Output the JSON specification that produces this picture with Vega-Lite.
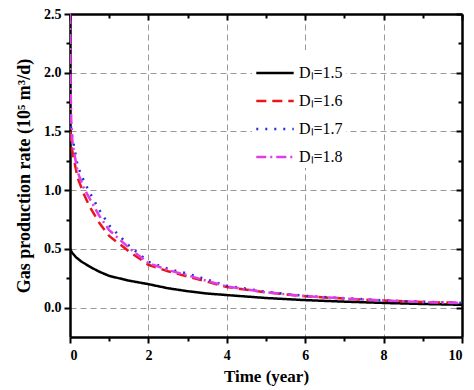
{
  "$schema": "https://vega.github.io/schema/vega-lite/v6.json",
  "width": 392,
  "height": 323,
  "autosize": "none",
  "padding": {"left": 70, "top": 14, "right": 12, "bottom": 53},
  "config": {
    "view": {"stroke": null},
    "font": "Liberation Serif"
  },
  "datasets": {
    "curves": [
      {"t": 0, "v": 0.5, "s": "Dₗ=1.5"},
      {"t": 0.05, "v": 0.47, "s": "Dₗ=1.5"},
      {"t": 0.15, "v": 0.43, "s": "Dₗ=1.5"},
      {"t": 0.3, "v": 0.39, "s": "Dₗ=1.5"},
      {"t": 0.5, "v": 0.35, "s": "Dₗ=1.5"},
      {"t": 0.72, "v": 0.31, "s": "Dₗ=1.5"},
      {"t": 1, "v": 0.27, "s": "Dₗ=1.5"},
      {"t": 1.5, "v": 0.23, "s": "Dₗ=1.5"},
      {"t": 2, "v": 0.2, "s": "Dₗ=1.5"},
      {"t": 2.5, "v": 0.165, "s": "Dₗ=1.5"},
      {"t": 3, "v": 0.14, "s": "Dₗ=1.5"},
      {"t": 3.5, "v": 0.12, "s": "Dₗ=1.5"},
      {"t": 4, "v": 0.107, "s": "Dₗ=1.5"},
      {"t": 5, "v": 0.082, "s": "Dₗ=1.5"},
      {"t": 6, "v": 0.064, "s": "Dₗ=1.5"},
      {"t": 7, "v": 0.051, "s": "Dₗ=1.5"},
      {"t": 8, "v": 0.04, "s": "Dₗ=1.5"},
      {"t": 9, "v": 0.031, "s": "Dₗ=1.5"},
      {"t": 10, "v": 0.024, "s": "Dₗ=1.5"},

      {"t": 0, "v": 1.5, "s": "Dₗ=1.6"},
      {"t": 0.05, "v": 1.35, "s": "Dₗ=1.6"},
      {"t": 0.1, "v": 1.26, "s": "Dₗ=1.6"},
      {"t": 0.2, "v": 1.1, "s": "Dₗ=1.6"},
      {"t": 0.35, "v": 0.97, "s": "Dₗ=1.6"},
      {"t": 0.5, "v": 0.86, "s": "Dₗ=1.6"},
      {"t": 0.75, "v": 0.72, "s": "Dₗ=1.6"},
      {"t": 1, "v": 0.61, "s": "Dₗ=1.6"},
      {"t": 1.5, "v": 0.48, "s": "Dₗ=1.6"},
      {"t": 2, "v": 0.365, "s": "Dₗ=1.6"},
      {"t": 2.5, "v": 0.31, "s": "Dₗ=1.6"},
      {"t": 3, "v": 0.265, "s": "Dₗ=1.6"},
      {"t": 4, "v": 0.176, "s": "Dₗ=1.6"},
      {"t": 5, "v": 0.13, "s": "Dₗ=1.6"},
      {"t": 6, "v": 0.096, "s": "Dₗ=1.6"},
      {"t": 7, "v": 0.077, "s": "Dₗ=1.6"},
      {"t": 8, "v": 0.06, "s": "Dₗ=1.6"},
      {"t": 9, "v": 0.048, "s": "Dₗ=1.6"},
      {"t": 10, "v": 0.04, "s": "Dₗ=1.6"},

      {"t": 0, "v": 1.7, "s": "Dₗ=1.7"},
      {"t": 0.03, "v": 1.5, "s": "Dₗ=1.7"},
      {"t": 0.1, "v": 1.38, "s": "Dₗ=1.7"},
      {"t": 0.2, "v": 1.2, "s": "Dₗ=1.7"},
      {"t": 0.35, "v": 1.08, "s": "Dₗ=1.7"},
      {"t": 0.5, "v": 0.98, "s": "Dₗ=1.7"},
      {"t": 0.75, "v": 0.83, "s": "Dₗ=1.7"},
      {"t": 1, "v": 0.7, "s": "Dₗ=1.7"},
      {"t": 1.5, "v": 0.53, "s": "Dₗ=1.7"},
      {"t": 2, "v": 0.39, "s": "Dₗ=1.7"},
      {"t": 2.5, "v": 0.33, "s": "Dₗ=1.7"},
      {"t": 3, "v": 0.29, "s": "Dₗ=1.7"},
      {"t": 4, "v": 0.187, "s": "Dₗ=1.7"},
      {"t": 5, "v": 0.135, "s": "Dₗ=1.7"},
      {"t": 6, "v": 0.1, "s": "Dₗ=1.7"},
      {"t": 7, "v": 0.08, "s": "Dₗ=1.7"},
      {"t": 8, "v": 0.062, "s": "Dₗ=1.7"},
      {"t": 9, "v": 0.05, "s": "Dₗ=1.7"},
      {"t": 10, "v": 0.04, "s": "Dₗ=1.7"},

      {"t": 0, "v": 2.5, "s": "Dₗ=1.8"},
      {"t": 0.01, "v": 2.0, "s": "Dₗ=1.8"},
      {"t": 0.03, "v": 1.6, "s": "Dₗ=1.8"},
      {"t": 0.06, "v": 1.42, "s": "Dₗ=1.8"},
      {"t": 0.1, "v": 1.33, "s": "Dₗ=1.8"},
      {"t": 0.2, "v": 1.15, "s": "Dₗ=1.8"},
      {"t": 0.35, "v": 1.02, "s": "Dₗ=1.8"},
      {"t": 0.5, "v": 0.93, "s": "Dₗ=1.8"},
      {"t": 0.75, "v": 0.78, "s": "Dₗ=1.8"},
      {"t": 1, "v": 0.66, "s": "Dₗ=1.8"},
      {"t": 1.5, "v": 0.51, "s": "Dₗ=1.8"},
      {"t": 2, "v": 0.38, "s": "Dₗ=1.8"},
      {"t": 2.5, "v": 0.32, "s": "Dₗ=1.8"},
      {"t": 3, "v": 0.275, "s": "Dₗ=1.8"},
      {"t": 4, "v": 0.18, "s": "Dₗ=1.8"},
      {"t": 5, "v": 0.13, "s": "Dₗ=1.8"},
      {"t": 6, "v": 0.098, "s": "Dₗ=1.8"},
      {"t": 7, "v": 0.078, "s": "Dₗ=1.8"},
      {"t": 8, "v": 0.06, "s": "Dₗ=1.8"},
      {"t": 9, "v": 0.048, "s": "Dₗ=1.8"},
      {"t": 10, "v": 0.038, "s": "Dₗ=1.8"}
    ]
  },
  "data": {"name": "curves"},
  "layer": [
    {
      "mark": {"type": "line", "strokeWidth": 2.5, "clip": true},
      "encoding": {
        "x": {
          "field": "t", "type": "quantitative",
          "scale": {"domain": [0, 10], "nice": false},
          "axis": {
            "orient": "bottom", "values": [0, 2, 4, 6, 8, 10],
            "title": "Time (year)", "titleFont": "Liberation Serif", "titleFontSize": 17, "titleFontWeight": "bold", "titleColor": "black", "titlePadding": 6,
            "labelFont": "Liberation Serif", "labelFontSize": 14, "labelFontWeight": "bold", "labelColor": "black", "labelPadding": 5,
            "tickSize": 6, "tickWidth": 2, "tickColor": "black",
            "domainColor": "black", "domainWidth": 2.5,
            "grid": true, "gridColor": "#999999", "gridDash": [6, 4], "gridWidth": 1
          }
        },
        "y": {
          "field": "v", "type": "quantitative",
          "scale": {"domain": [-0.25, 2.5], "nice": false, "zero": false},
          "axis": {
            "orient": "left", "values": [0, 0.5, 1, 1.5, 2, 2.5], "format": ".1f",
            "title": "Gas production rate (10⁵ m³/d)", "titleFont": "Liberation Serif", "titleFontSize": 18, "titleFontWeight": "bold", "titleColor": "black", "titlePadding": 10,
            "labelFont": "Liberation Serif", "labelFontSize": 14, "labelFontWeight": "bold", "labelColor": "black", "labelPadding": 3,
            "tickSize": 6, "tickWidth": 2, "tickColor": "black",
            "domainColor": "black", "domainWidth": 2.5,
            "grid": true, "gridColor": "#999999", "gridDash": [6, 4], "gridWidth": 1
          }
        },
        "color": {
          "field": "s", "type": "nominal",
          "scale": {"domain": ["Dₗ=1.5", "Dₗ=1.6", "Dₗ=1.7", "Dₗ=1.8"], "range": ["#000000", "#e8161c", "#2231d0", "#e03ce8"]},
          "legend": {
            "title": null, "orient": "none", "legendX": 182, "legendY": 36,
            "symbolType": "stroke", "symbolSize": 1400, "symbolStrokeWidth": 2.5,
            "labelFont": "Liberation Serif", "labelFontSize": 16, "labelColor": "black", "labelOffset": 4,
            "rowPadding": -2.5, "fillColor": "white", "padding": 3
          }
        },
        "strokeDash": {
          "field": "s", "type": "nominal",
          "scale": {"domain": ["Dₗ=1.5", "Dₗ=1.6", "Dₗ=1.7", "Dₗ=1.8"], "range": [[1, 0], [10, 6], [2, 7], [10, 4, 2, 4]]},
          "legend": {
            "title": null, "orient": "none", "legendX": 182, "legendY": 36,
            "symbolType": "stroke", "symbolSize": 1400, "symbolStrokeWidth": 2.5,
            "labelFont": "Liberation Serif", "labelFontSize": 16, "labelColor": "black", "labelOffset": 4,
            "rowPadding": -2.5, "fillColor": "white", "padding": 3
          }
        },
        "order": {"field": "t", "type": "quantitative"}
      }
    },
    {
      "mark": {"type": "point", "opacity": 0},
      "encoding": {
        "x": {"field": "t", "type": "quantitative", "axis": {"orient": "bottom", "values": [1, 3, 5, 7, 9], "labels": false, "title": null, "domain": false, "grid": false, "tickSize": 4, "tickWidth": 2, "tickColor": "black"}},
        "y": {"field": "v", "type": "quantitative", "axis": {"orient": "left", "values": [0.25, 0.75, 1.25, 1.75, 2.25], "labels": false, "title": null, "domain": false, "grid": false, "tickSize": 4, "tickWidth": 2, "tickColor": "black"}}
      }
    },
    {
      "mark": {"type": "point", "opacity": 0},
      "encoding": {
        "x": {"field": "t", "type": "quantitative", "axis": {"orient": "top", "values": [0, 2, 4, 6, 8, 10], "labels": false, "title": null, "domain": true, "domainColor": "black", "domainWidth": 2.5, "grid": false, "tickSize": -6, "tickWidth": 2, "tickColor": "black"}},
        "y": {"field": "v", "type": "quantitative", "axis": {"orient": "right", "values": [0, 0.5, 1, 1.5, 2, 2.5], "labels": false, "title": null, "domain": true, "domainColor": "black", "domainWidth": 2.5, "grid": false, "tickSize": -6, "tickWidth": 2, "tickColor": "black"}}
      }
    },
    {
      "mark": {"type": "point", "opacity": 0},
      "encoding": {
        "x": {"field": "t", "type": "quantitative", "axis": {"orient": "top", "values": [1, 3, 5, 7, 9], "labels": false, "title": null, "domain": false, "grid": false, "tickSize": -4, "tickWidth": 2, "tickColor": "black"}},
        "y": {"field": "v", "type": "quantitative", "axis": {"orient": "right", "values": [0.25, 0.75, 1.25, 1.75, 2.25], "labels": false, "title": null, "domain": false, "grid": false, "tickSize": -4, "tickWidth": 2, "tickColor": "black"}}
      }
    }
  ],
  "resolve": {"axis": {"x": "independent", "y": "independent"}}
}
